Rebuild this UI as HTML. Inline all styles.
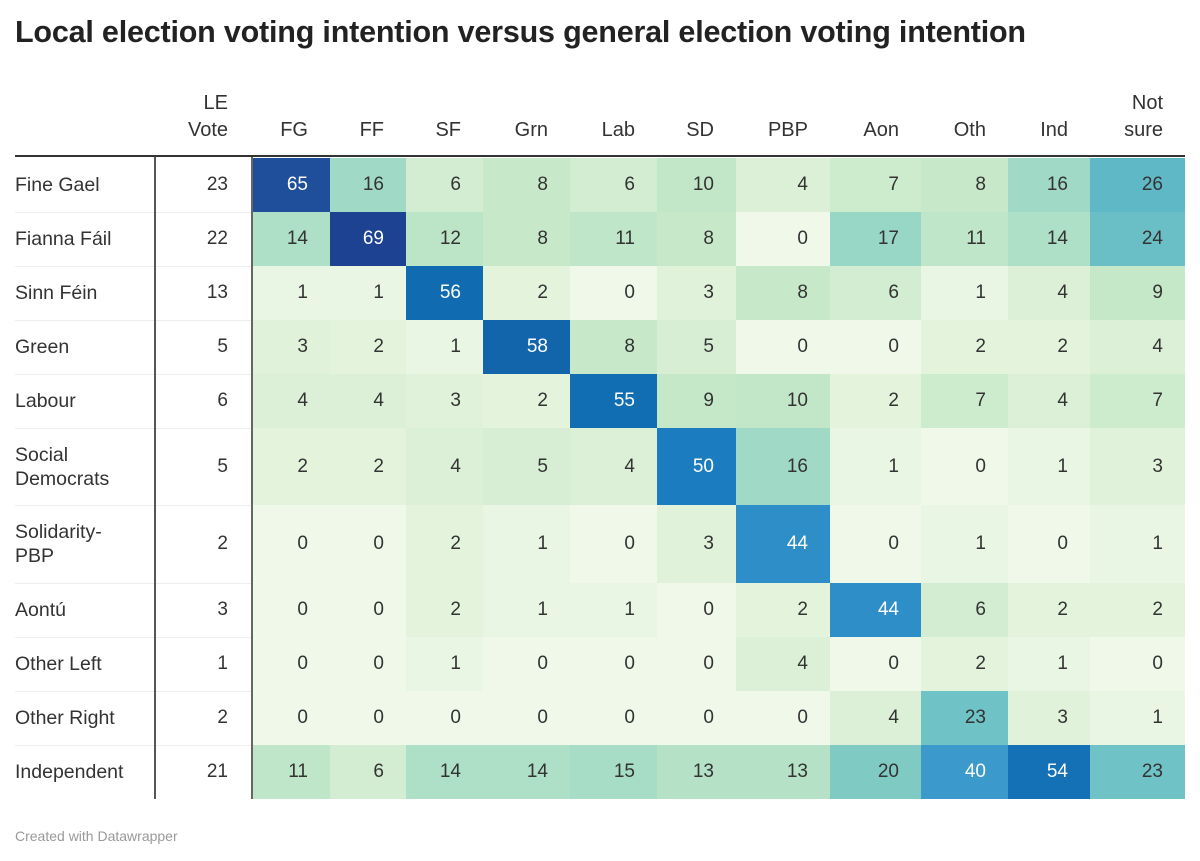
<!DOCTYPE html>
<html><head><meta charset="utf-8"><style>
body{margin:0;width:1200px;height:861px;background:#fff;font-family:"Liberation Sans",sans-serif;position:relative;overflow:hidden;color:#333}
#title{position:absolute;left:15px;top:15px;font-size:30.5px;font-weight:bold;color:#222;letter-spacing:-0.2px}
.hdr{position:absolute;font-size:20px;color:#333;text-align:right;line-height:27px}
.lab{position:absolute;left:15px;font-size:19.5px;color:#333;line-height:24px;display:flex;align-items:center}
.le{position:absolute;font-size:19px;color:#333;text-align:right;display:flex;align-items:center;justify-content:flex-end}
.cell{position:absolute;font-size:19px;display:flex;align-items:center;justify-content:flex-end;box-sizing:border-box;padding-right:22px}
#foot{position:absolute;left:15px;top:828px;font-size:14px;color:#999}
</style></head><body>
<div id="title">Local election voting intention versus general election voting intention</div>
<div id="table"></div>
<div id="foot">Created with Datawrapper</div>
<script>
const columns=["FG","FF","SF","Grn","Lab","SD","PBP","Aon","Oth","Ind","Not sure"];
const rowLabels=["Fine Gael","Fianna Fáil","Sinn Féin","Green","Labour","Social Democrats","Solidarity-PBP","Aontú","Other Left","Other Right","Independent"];
const leVote=[23,22,13,5,6,5,2,3,1,2,21];
const values=[
[65,16,6,8,6,10,4,7,8,16,26],
[14,69,12,8,11,8,0,17,11,14,24],
[1,1,56,2,0,3,8,6,1,4,9],
[3,2,1,58,8,5,0,0,2,2,4],
[4,4,3,2,55,9,10,2,7,4,7],
[2,2,4,5,4,50,16,1,0,1,3],
[0,0,2,1,0,3,44,0,1,0,1],
[0,0,2,1,1,0,2,44,6,2,2],
[0,0,1,0,0,0,4,0,2,1,0],
[0,0,0,0,0,0,0,4,23,3,1],
[11,6,14,14,15,13,13,20,40,54,23]];
const colX=[252,330,406,483,570,657,736,830,921,1008,1090,1185];
const rowY=[158,212,266,320,374,428,505,583,637,691,745,799];
const stops=[[0,[239,248,233]],[2,[227,243,220]],[4,[220,240,216]],[8,[200,233,201]],[12,[188,229,199]],[16,[160,217,198]],[20,[127,203,196]],[26,[95,184,198]],[40,[59,154,203]],[50,[27,125,192]],[56,[16,107,176]],[65,[31,78,154]],[70,[29,63,143]]];
function color(v){for(let i=1;i<stops.length;i++){if(v<=stops[i][0]){const a=stops[i-1],b=stops[i],t=(v-a[0])/(b[0]-a[0]);const c=a[1].map((x,k)=>Math.round(x+(b[1][k]-x)*t));return `rgb(${c})`;}}return 'rgb(29,63,143)';}
const root=document.getElementById('table');
function add(cls,css,html){const d=document.createElement('div');d.className=cls;d.style.cssText=css;d.innerHTML=html;root.appendChild(d);return d;}
let h=add('hdr','left:155px;width:73px;top:90px;','LE<br>Vote');


columns.forEach((c,j)=>{const two=c==="Not sure";const el=add('hdr',`left:${colX[j]}px;width:${colX[j+1]-colX[j]-22}px;top:${two?90:117}px;`,two?'Not<br>sure':c);

});
const rule=add('','position:absolute;left:15px;top:155px;width:1170px;height:2px;background:#333','');


rowLabels.forEach((r,i)=>{const y=rowY[i],hh=rowY[i+1]-y;
const lab=add('lab',`top:${y}px;height:${hh}px;width:130px;`,r==="Social Democrats"?"Social<br>Democrats":r==="Solidarity-PBP"?"Solidarity-<br>PBP":r);


const le=add('le',`left:155px;width:73px;top:${y}px;height:${hh}px;`,leVote[i]);


if(i>0){const s=add('',`position:absolute;left:15px;top:${y}px;width:237px;height:1px;background:#eee`,'');

}
values[i].forEach((v,j)=>{const c=add('cell',`left:${colX[j]}px;width:${colX[j+1]-colX[j]}px;top:${y}px;height:${hh}px;background:${color(v)};color:${v>=40?'#fff':'#333'}`,v);

});});
[155,252].forEach(x=>{const l=add('',`position:absolute;left:${x-1}px;top:157px;width:2px;height:642px;background:${x==155?'#555':'#666'}`,'');

});
</script>
</body></html>
